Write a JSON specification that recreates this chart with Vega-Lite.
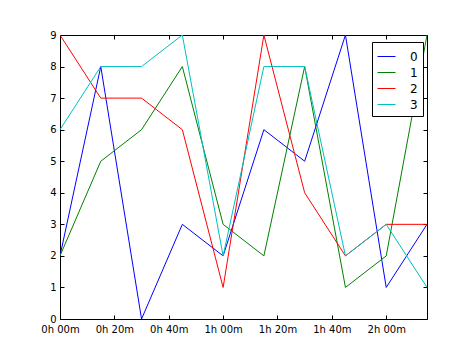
{
  "$schema": "https://vega.github.io/schema/vega-lite/v6.json",
  "autosize": "none",
  "width": 367,
  "height": 284,
  "padding": {"left": 60, "top": 35, "right": 47, "bottom": 36},
  "background": "white",
  "config": {
    "font": "DejaVu Sans",
    "view": {"stroke": null},
    "axis": {
      "grid": false,
      "domainColor": "black",
      "domainWidth": 1,
      "tickColor": "black",
      "tickSize": -4,
      "tickWidth": 1,
      "labelFont": "DejaVu Sans",
      "labelFontSize": 10,
      "labelColor": "black",
      "labelOverlap": false,
      "labelFlush": false,
      "title": null
    },
    "legend": {
      "labelFont": "DejaVu Sans",
      "labelFontSize": 12,
      "labelColor": "black"
    }
  },
  "data": {
    "values": [
      {"t": 0, "series": "0", "v": 2}, {"t": 15, "series": "0", "v": 8}, {"t": 30, "series": "0", "v": 0}, {"t": 45, "series": "0", "v": 3}, {"t": 60, "series": "0", "v": 2},
      {"t": 75, "series": "0", "v": 6}, {"t": 90, "series": "0", "v": 5}, {"t": 105, "series": "0", "v": 9}, {"t": 120, "series": "0", "v": 1}, {"t": 135, "series": "0", "v": 3},
      {"t": 0, "series": "1", "v": 2}, {"t": 15, "series": "1", "v": 5}, {"t": 30, "series": "1", "v": 6}, {"t": 45, "series": "1", "v": 8}, {"t": 60, "series": "1", "v": 3},
      {"t": 75, "series": "1", "v": 2}, {"t": 90, "series": "1", "v": 8}, {"t": 105, "series": "1", "v": 1}, {"t": 120, "series": "1", "v": 2}, {"t": 135, "series": "1", "v": 9},
      {"t": 0, "series": "2", "v": 9}, {"t": 15, "series": "2", "v": 7}, {"t": 30, "series": "2", "v": 7}, {"t": 45, "series": "2", "v": 6}, {"t": 60, "series": "2", "v": 1},
      {"t": 75, "series": "2", "v": 9}, {"t": 90, "series": "2", "v": 4}, {"t": 105, "series": "2", "v": 2}, {"t": 120, "series": "2", "v": 3}, {"t": 135, "series": "2", "v": 3},
      {"t": 0, "series": "3", "v": 6}, {"t": 15, "series": "3", "v": 8}, {"t": 30, "series": "3", "v": 8}, {"t": 45, "series": "3", "v": 9}, {"t": 60, "series": "3", "v": 2},
      {"t": 75, "series": "3", "v": 8}, {"t": 90, "series": "3", "v": 8}, {"t": 105, "series": "3", "v": 2}, {"t": 120, "series": "3", "v": 3}, {"t": 135, "series": "3", "v": 1}
    ]
  },
  "layer": [
    {
      "mark": {"type": "line", "strokeWidth": 1, "clip": true},
      "encoding": {
        "x": {
          "field": "t", "type": "quantitative",
          "scale": {"domain": [0, 135], "nice": false, "zero": false},
          "axis": {
            "orient": "bottom",
            "values": [0, 20, 40, 60, 80, 100, 120],
            "labelPadding": 9,
            "labelExpr": "floor(datum.value/60) + 'h ' + (datum.value%60 < 10 ? '0' : '') + (datum.value%60) + 'm'"
          }
        },
        "y": {
          "field": "v", "type": "quantitative",
          "scale": {"domain": [0, 9], "nice": false},
          "axis": {"orient": "left", "values": [0,1,2,3,4,5,6,7,8,9], "labelPadding": 8}
        },
        "color": {
          "field": "series", "type": "nominal",
          "scale": {"domain": ["0", "1", "2", "3"], "range": ["#0000ff", "#008000", "#ff0000", "#00bfbf"]},
          "legend": {
            "title": null,
            "orient": "none",
            "legendX": 312,
            "legendY": 7,
            "strokeColor": "black",
            "fillColor": "white",
            "padding": 5,
            "symbolType": "stroke",
            "symbolSize": 324,
            "symbolStrokeWidth": 1,
            "labelOffset": 14,
            "rowPadding": 0
          }
        }
      }
    },
    {
      "mark": {"type": "line", "opacity": 0},
      "encoding": {
        "x": {
          "field": "t", "type": "quantitative",
          "axis": {"orient": "top", "values": [0, 20, 40, 60, 80, 100, 120], "labels": false}
        },
        "y": {
          "field": "v", "type": "quantitative",
          "axis": {"orient": "right", "values": [0,1,2,3,4,5,6,7,8,9], "labels": false}
        },
        "detail": {"field": "series"}
      }
    }
  ],
  "resolve": {"axis": {"x": "independent", "y": "independent"}}
}
